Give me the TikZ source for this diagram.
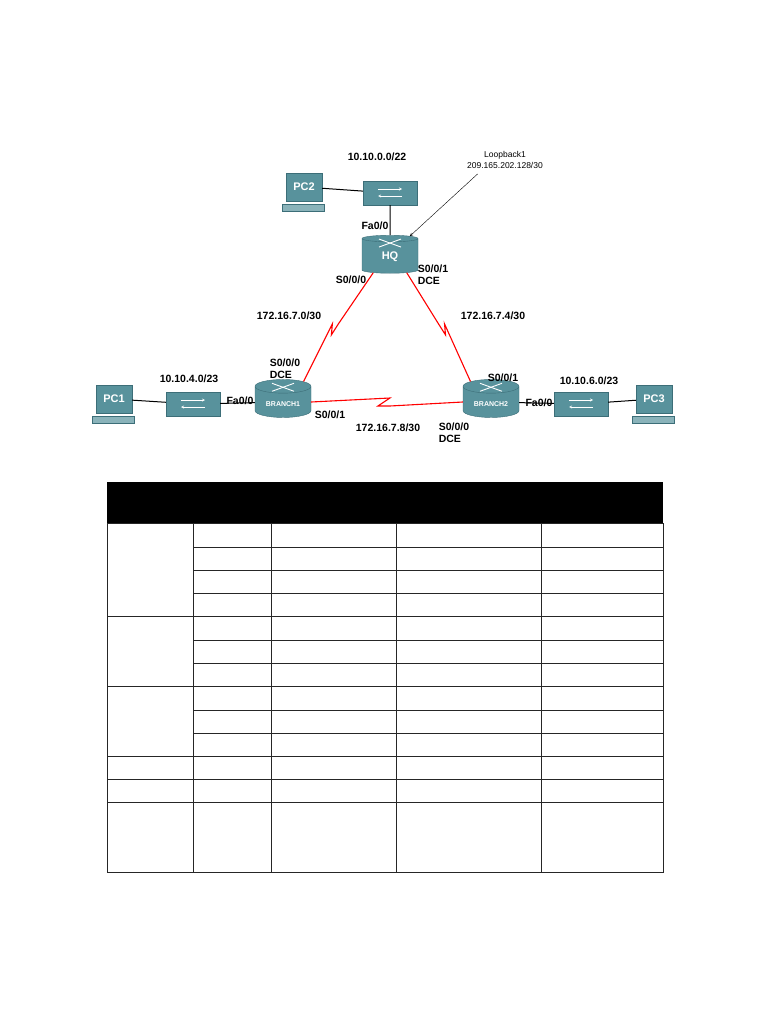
\documentclass[tikz,border=0pt]{standalone}
\usepackage{fontspec}
\setmainfont{Liberation Sans}
\usetikzlibrary{calc,shapes.geometric}
\definecolor{teal1}{RGB}{88,146,156}
\definecolor{teal2}{RGB}{60,110,120}
\begin{document}
\begin{tikzpicture}[x=1pt,y=-1pt,
 lbl/.style={font=\fontsize{10.5}{12}\selectfont\bfseries},
 router/.style={cylinder,shape border rotate=90,aspect=0.4,minimum width=56,minimum height=38,draw=teal2,fill=teal1,text=white,font=\fontsize{7}{8}\selectfont\bfseries,inner sep=0pt},
 switchbox/.style={draw=teal2,fill=teal1,minimum width=54,minimum height=24,inner sep=0pt},
 pcbox/.style={draw=teal2,fill=teal1,text=white,minimum width=36,minimum height=28,font=\fontsize{11}{12}\selectfont\bfseries,inner sep=0pt},
 serial/.style={red,line width=1.1pt},
 eth/.style={black,line width=1pt},
 cell/.style={draw=black!85,line width=0.9pt}]
\useasboundingbox (0,0) rectangle (768,1024);
% devices
\node[pcbox] (pc2) at (304,187) {PC2};
\node[switchbox] (sw0) at (390,193) {};
\node[router,font=\fontsize{11}{12}\selectfont\bfseries] (hq) at (390,256) {\raisebox{-9pt}{HQ}};
\node[router] (b1) at (283,402) {\raisebox{-9pt}{BRANCH1}};
\node[router] (b2) at (491,402) {\raisebox{-9pt}{BRANCH2}};
\node[pcbox] (pc1) at (114,399) {PC1};
\node[switchbox] (sw1) at (193,404) {};
\node[switchbox] (sw2) at (581,404) {};
\node[pcbox] (pc3) at (654,399) {PC3};
% pc bases
\foreach \p in {pc1,pc2,pc3}{
 \fill[teal1!70,draw=teal2] ($(\p.south west)+(-4,3)$) rectangle ($(\p.south east)+(2,10)$);}
% switch arrows
\foreach \s in {sw0,sw1,sw2}{
 \draw[white,->,>=stealth] ($(\s)+(-12,-4)$) -- ($(\s)+(12,-4)$);
 \draw[white,->,>=stealth] ($(\s)+(12,3)$) -- ($(\s)+(-12,3)$);}
% ethernet
\draw[eth] (pc2) -- (sw0);
\draw[eth] (sw0) -- (hq);
\draw[eth] (pc1) -- (sw1);
\draw[eth] (sw1) -- (b1);
\draw[eth] (b2) -- (sw2);
\draw[eth] (sw2) -- (pc3);
% serial with lightning
\draw[serial] (hq.south west) -- ($(hq)!.52!(b1)+(4,-8)$) -- ($(hq)!.52!(b1)+(-3,3)$) -- ($(hq)!.52!(b1)+(-2,-8)$) -- (b1.north east);
\draw[serial] (hq.south east) -- ($(hq)!.52!(b2)+(-4,-8)$) -- ($(hq)!.52!(b2)+(3,3)$) -- ($(hq)!.52!(b2)+(2,-8)$) -- (b2.north west);
\draw[serial] (b1.east) -- ($(b1.east)!.48!(b2.west)+(6,-4)$) -- ($(b1.east)!.48!(b2.west)+(-6,4)$) -- ($(b1.east)!.48!(b2.west)+(6,4)$) -- (b2.west);
% router X marks
\foreach \r in {hq,b1,b2}{
 \draw[white,line width=0.9pt] ($(\r.north)+(-11,4)$) -- ($(\r.north)+(11,12)$);
 \draw[white,line width=0.9pt] ($(\r.north)+(11,4)$) -- ($(\r.north)+(-11,12)$);}
% labels
\node[lbl] (n0) at (377,157) {10.10.0.0/22};
\node[font=\fontsize{8.5}{10.5}\selectfont,align=center] (lb) at (505,160) {Loopback1\\209.165.202.128/30};
\draw[->,>=stealth] (lb.south west)++(14,2) coordinate (la) (la) -- (hq.north east);
\node[lbl] at (375,226) {Fa0/0};
\node[lbl] at (351,280) {S0/0/0};
\node[lbl,align=left] at (433,275) {S0/0/1\\DCE};
\node[lbl] at (289,316) {172.16.7.0/30};
\node[lbl] at (493,316) {172.16.7.4/30};
\node[lbl,align=left] at (285,369) {S0/0/0\\DCE};
\node[lbl] at (189,379) {10.10.4.0/23};
\node[lbl] at (240,401) {Fa0/0};
\node[lbl] at (330,415) {S0/0/1};
\node[lbl] at (388,428) {172.16.7.8/30};
\node[lbl,align=left] at (454,433) {S0/0/0\\DCE};
\node[lbl] at (503,378) {S0/0/1};
\node[lbl] at (589,381) {10.10.6.0/23};
\node[lbl] at (539,403) {Fa0/0};
% table
\fill[black] (107,482) rectangle (663,523);
\foreach \y in {547,570,593,640,663,710,733}{\draw[cell] (193,\y) -- (663,\y);}
\foreach \y in {616,686,756,779,802}{\draw[cell] (107,\y) -- (663,\y);}
\draw[cell] (107,523) rectangle (663,872);
\foreach \x in {193,271,396,541}{\draw[cell] (\x,523) -- (\x,872);}
\end{tikzpicture}
\end{document}
